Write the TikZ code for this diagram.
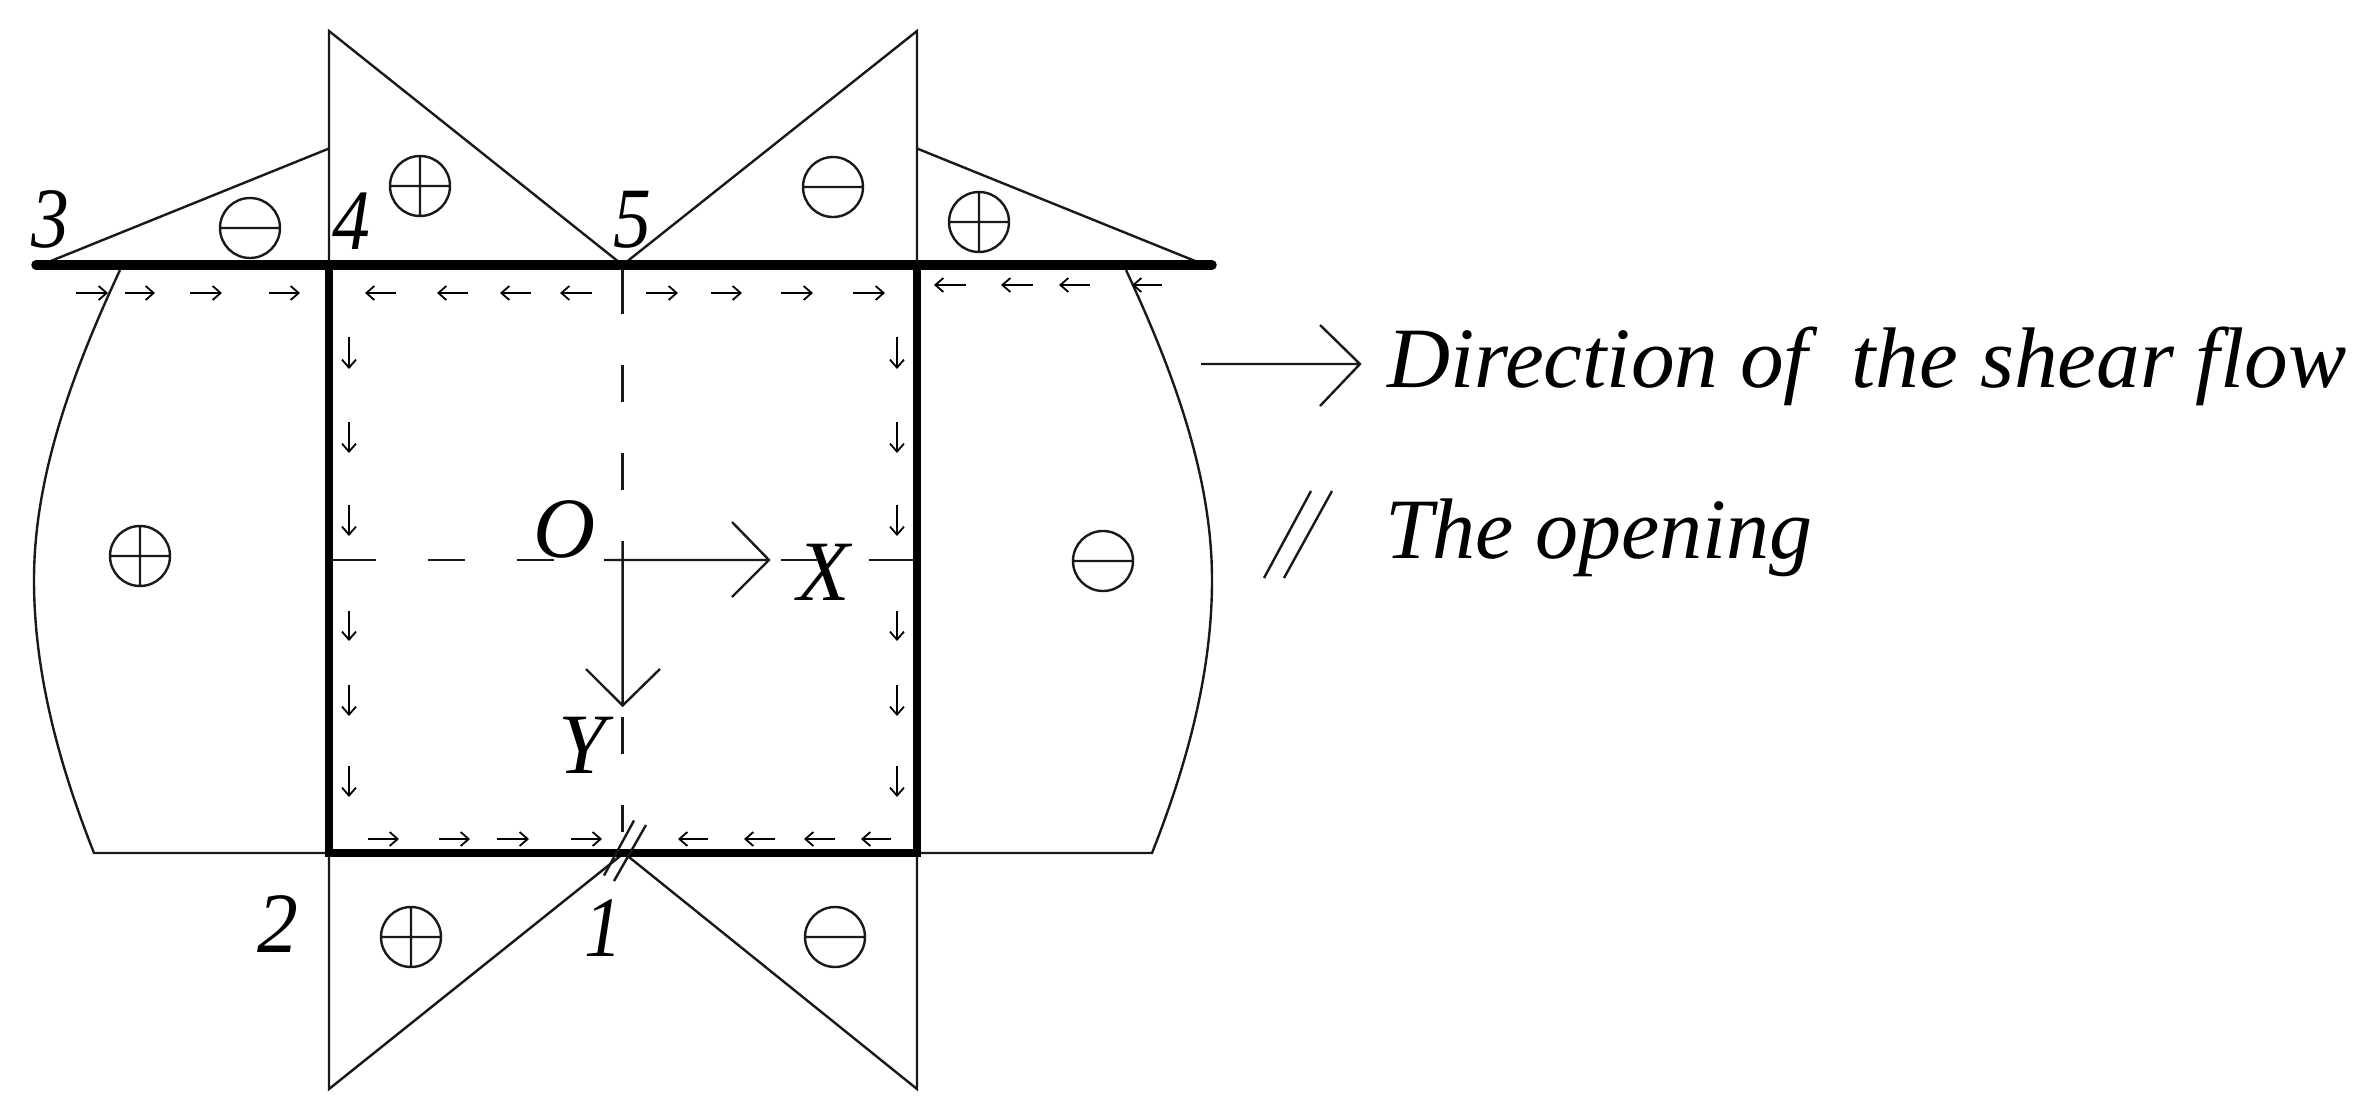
\documentclass[tikz,border=0pt]{standalone}
\usepackage{graphicx}
\usepackage{fontspec}
\setmainfont{Liberation Serif}
\usetikzlibrary{arrows.meta}
\tikzset{
 thinl/.style={line width=2.4pt,black!90},
 thickl/.style={line width=9.5pt,black},
 smallarrow/.style={line width=2pt,-{Straight Barb[length=8pt,width=14pt,line width=1.8pt]}},
 lbl/.style={anchor=base west,inner sep=0pt,outer sep=0pt,font=\fontsize{86}{90}\selectfont\itshape},
}
\newcommand{\harr}[3]{\draw[smallarrow] (#1,#3) -- (#2,#3);}
\newcommand{\varr}[3]{\draw[smallarrow] (#3,#1) -- (#3,#2);}
\newcommand{\plussign}[2]{\draw[thinl] (#1,#2) circle[radius=30pt] (#1-30,#2) -- (#1+30,#2) (#1,#2-30) -- (#1,#2+30);}
\newcommand{\minussign}[2]{\draw[thinl] (#1,#2) circle[radius=30pt] (#1-30,#2) -- (#1+30,#2);}
\begin{document}
\begin{tikzpicture}[x=1pt,y=-1pt]
\useasboundingbox (0,0) rectangle (2371,1117);
% stress diagram outlines
\draw[thinl] (329,265) -- (329,31) -- (622.6,265);
\draw[thinl] (622.6,265) -- (917,31) -- (917,265);
\draw[thinl] (41,265) -- (329,148.5);
\draw[thinl] (917,148.5) -- (1205,265);
\draw[thinl] (329,853) -- (329,1089) -- (624,853);
\draw[thinl] (917,853) -- (917,1089) -- (624,853);
\draw[thinl] (120,270) .. controls (72,373) and (34,477) .. (34,580) .. controls (34,671) and (58,762) .. (94,853) -- (329,853);
\draw[thinl] (1126,270) .. controls (1174,373) and (1212,477) .. (1212,580) .. controls (1212,671) and (1188,762) .. (1152,853) -- (917,853);
% section
\draw[thickl,line cap=round] (36,265) -- (1212,265);
\draw[line width=8pt] (329,265) -- (329,853);
\draw[line width=8pt] (917,265) -- (917,853);
\draw[line width=8pt,line cap=rect] (329,853) -- (917,853);
% axes
\draw[thinl] (622.6,270) -- (622.6,314) (622.6,365) -- (622.6,402) (622.6,453) -- (622.6,490);
\draw[thinl] (622.6,541) -- (622.6,705.5) (586,669) -- (622.6,705.5) -- (660,669);
\draw[thinl] (622.6,717) -- (622.6,754) (622.6,805) -- (622.6,832);
\draw[thinl] (333,560) -- (376,560) (428,560) -- (465,560) (517,560) -- (554,560);
\draw[thinl] (604,560) -- (769,560) (732,522) -- (769,560) -- (732,597);
\draw[thinl] (781,560) -- (817,560) (869,560) -- (913,560);
% opening
\draw[thinl] (634,820.5) -- (604,875.5) (646,825) -- (614,881);
% small arrows
\harr{76}{108}{293}\harr{125}{155}{293}\harr{190}{222}{293}\harr{269}{300}{293}
\harr{396}{365}{293}\harr{468}{437}{293}\harr{531}{500}{293}\harr{592}{560}{293}
\harr{646}{678}{293}\harr{711}{742}{293}\harr{781}{813}{293}\harr{853}{885}{293}
\harr{966}{934}{285}\harr{1033}{1001}{285}\harr{1090}{1059}{285}\harr{1162}{1132}{285}
\harr{368}{399}{839}\harr{439}{470}{839}\harr{497}{529}{839}\harr{571}{602}{839}
\harr{708}{678}{839}\harr{775}{744}{839}\harr{835}{804}{839}\harr{891}{861}{839}
\foreach \xx in {349,897}{
 \varr{337}{369}{\xx}\varr{422}{453}{\xx}\varr{505}{536}{\xx}
 \varr{611}{641}{\xx}\varr{685}{716}{\xx}\varr{766}{797}{\xx}
}
% signs
\minussign{250}{228}
\plussign{420}{186}
\minussign{833}{187}
\plussign{979}{222}
\plussign{140}{556}
\minussign{1103}{561}
\plussign{411}{937}
\minussign{835}{937}
% labels
\node[lbl] (n3) at (31,247) {\scalebox{0.88}[1]{3}};
\node[lbl] (n4) at (332,249) {\scalebox{0.88}[1]{4}};
\node[lbl] (n5) at (613,247) {\scalebox{0.88}[1]{5}};
\node[lbl] (n2) at (257,952) {\scalebox{0.95}[1]{2}};
\node[lbl] (n1) at (584,956) {\scalebox{0.88}[1]{1}};
\node[lbl] (nO) at (533,557) {O};
\node[lbl] (nX) at (797,600) {X};
\node[lbl] (nY) at (558,773) {Y};
% legend
\draw[thinl] (1201,364) -- (1360,364) (1320,325) -- (1360,364) -- (1320,406);
\draw[thinl] (1311,491) -- (1264,578) (1332,491) -- (1284,578);
\node[lbl] (t1) at (1387,387) {\scalebox{1.015}[1]{Direction of\ \ the shear flow}};
\node[lbl] (t2) at (1385,558) {The opening};
\end{tikzpicture}
\end{document}
